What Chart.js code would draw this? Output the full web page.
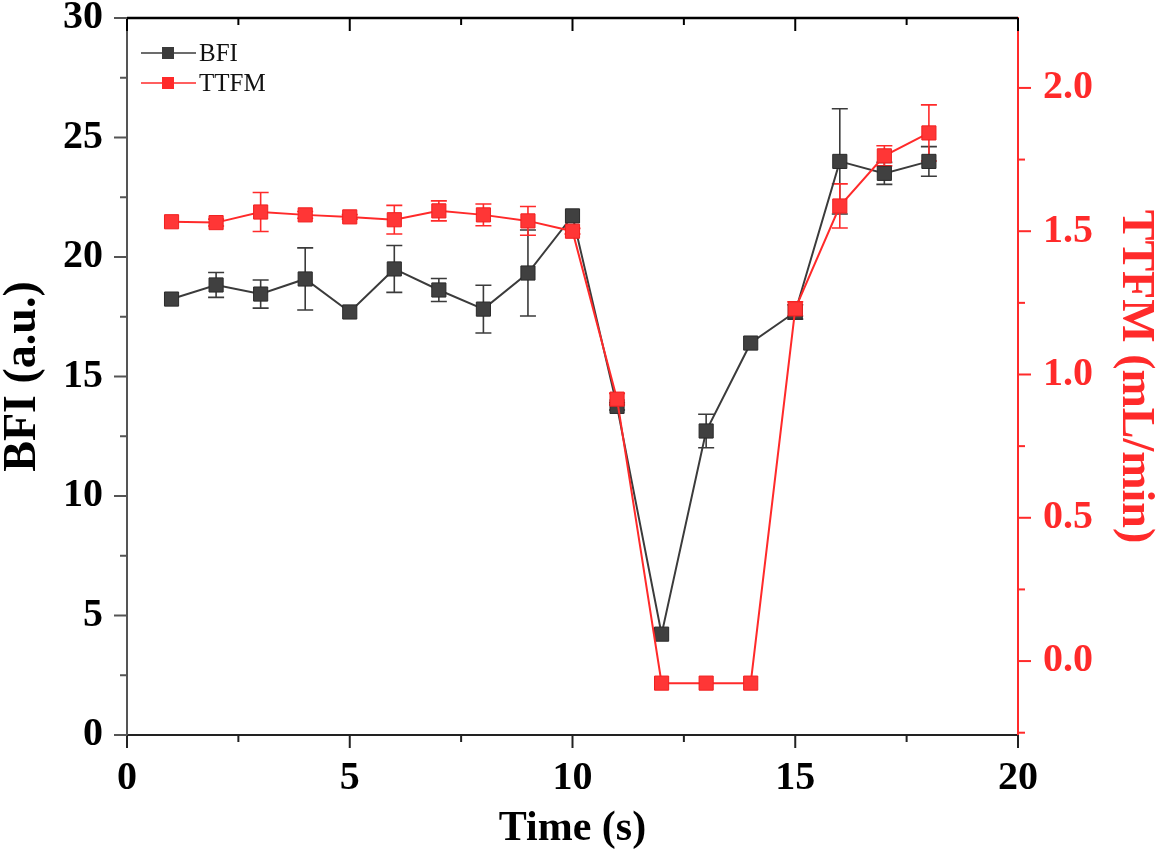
<!DOCTYPE html>
<html>
<head>
<meta charset="utf-8">
<script src="https://cdn.jsdelivr.net/npm/chart.js@4.4.0/dist/chart.umd.min.js"></script>
<style>
  html, body { margin: 0; padding: 0; background: #fff; }
  #canvas-BFI { width: 1158px; height: 859px; }
</style>
</head>
<body>
<div id="canvas-BFI">
  <canvas id="cntBFI_Chart"></canvas>
</div>
<script>
  // valores
  const tiempo  = [1, 2, 3, 4, 5, 6, 7, 8, 9, 10, 11, 12, 13, 14, 15, 16, 17, 18];
  const bfi     = [18.24, 18.83, 18.45, 19.08, 17.70, 19.50, 18.62, 17.82, 19.33, 21.72, 13.75, 4.22, 12.72, 16.40, 17.70, 24.00, 23.50, 24.00];
  const bfiErr  = [0, 0.52, 0.59, 1.3, 0, 0.98, 0.48, 1.0, 1.8, 0, 0.15, 0, 0.7, 0, 0.3, 2.2, 0.46, 0.62];
  const ttfm    = [1.533, 1.530, 1.567, 1.557, 1.550, 1.540, 1.571, 1.557, 1.536, 1.500, 0.914, -0.077, -0.077, -0.077, 1.229, 1.588, 1.763, 1.843];
  const ttfmErr = [0, 0.012, 0.068, 0.012, 0.008, 0.05, 0.035, 0.038, 0.05, 0.01, 0.02, 0, 0, 0, 0.025, 0.077, 0.035, 0.098];
  const etiquetas = ['BFI', 'TTFM'];

  const fuente = 'Liberation Serif, Times New Roman, serif';
  const negro = '#3b3b3b', rojo = '#ff2a2a';

  function barrasError(ctx, chart, ys, errs, axisId, color) {
    const xS = chart.scales.x, yS = chart.scales[axisId];
    ctx.save();
    ctx.strokeStyle = color;
    ctx.lineWidth = 1.6;
    tiempo.forEach(function (t, i) {
      if (!errs[i]) return;
      const px = xS.getPixelForValue(t);
      const top = yS.getPixelForValue(ys[i] + errs[i]);
      const bot = yS.getPixelForValue(ys[i] - errs[i]);
      ctx.beginPath();
      ctx.moveTo(px, top); ctx.lineTo(px, bot);
      ctx.moveTo(px - 8, top); ctx.lineTo(px + 8, top);
      ctx.moveTo(px - 8, bot); ctx.lineTo(px + 8, bot);
      ctx.stroke();
    });
    ctx.restore();
  }

  function marcas(ctx, scale, desde, hasta, paso, cadaMayor, lado, color) {
    ctx.save();
    ctx.strokeStyle = color;
    ctx.lineWidth = 2;
    const a = scale.chart.chartArea;
    for (let v = desde; v <= hasta + 1e-9; v += paso) {
      const n = Math.round(v / paso);
      const len = (n % cadaMayor === 0) ? 13 : 7;
      const p = scale.getPixelForValue(v);
      ctx.beginPath();
      if (lado === 'bottom') { ctx.moveTo(p, a.bottom); ctx.lineTo(p, a.bottom + len); }
      if (lado === 'top')    { ctx.moveTo(p, a.top);    ctx.lineTo(p, a.top + len); }
      if (lado === 'left')   { ctx.moveTo(a.left, p);   ctx.lineTo(a.left - len, p); }
      if (lado === 'right')  { ctx.moveTo(a.right, p);  ctx.lineTo(a.right + len, p); }
      ctx.stroke();
    }
    ctx.restore();
  }

  // anchos fijos de los ejes, sin margen extra por las etiquetas
  function fijar(ancho, alto) {
    return function (scale) {
      if (ancho) scale.width = ancho;
      if (alto) scale.height = alto;
      scale.paddingTop = 0; scale.paddingBottom = 0;
      scale.paddingLeft = 0; scale.paddingRight = 0;
    };
  }

  const marco = {
    id: 'marco',
    beforeDatasetsDraw: function (chart) {
      const ctx = chart.ctx;
      barrasError(ctx, chart, bfi, bfiErr, 'y', negro);
      barrasError(ctx, chart, ttfm, ttfmErr, 'y1', rojo);
    },
    afterDraw: function (chart) {
      const ctx = chart.ctx, a = chart.chartArea, s = chart.scales;
      // linea superior
      ctx.save();
      ctx.strokeStyle = '#000';
      ctx.lineWidth = 2.5;
      ctx.beginPath();
      ctx.moveTo(a.left, a.top); ctx.lineTo(a.right, a.top);
      ctx.stroke();
      ctx.restore();

      marcas(ctx, s.x, 0, 20, 2.5, 2, 'bottom', '#222');
      marcas(ctx, s.x, 0, 20, 2.5, 2, 'top', '#000');
      marcas(ctx, s.y, 0, 30, 2.5, 2, 'left', '#555');
      marcas(ctx, s.y1, -0.25, 2.0, 0.25, 2, 'right', rojo);

      // leyenda
      const colores = [negro, rojo];
      ctx.save();
      ctx.font = '25px ' + fuente;
      ctx.textBaseline = 'middle';
      etiquetas.forEach(function (txt, i) {
        const y = a.top + 35 + i * 30;
        ctx.strokeStyle = colores[i];
        ctx.lineWidth = 1.6;
        ctx.beginPath(); ctx.moveTo(a.left + 14, y); ctx.lineTo(a.left + 69, y); ctx.stroke();
        ctx.fillStyle = colores[i];
        ctx.fillRect(a.left + 35, y - 6, 12, 12);
        ctx.fillStyle = '#111';
        ctx.fillText(txt, a.left + 72, y + 1);
      });
      ctx.restore();
    }
  };

  const config = {
    type: 'line',
    data: {
      datasets: [
        {
          label: etiquetas[1],
          data: tiempo.map(function (t, i) { return { x: t, y: ttfm[i] }; }),
          yAxisID: 'y1',
          borderColor: rojo,
          backgroundColor: '#ff3636',
          pointBackgroundColor: '#ff3636',
          pointBorderColor: '#f02020',
          pointStyle: 'rect',
          pointRadius: 10,
          pointBorderWidth: 1,
          borderWidth: 2,
          tension: 0,
          order: 0
        },
        {
          label: etiquetas[0],
          data: tiempo.map(function (t, i) { return { x: t, y: bfi[i] }; }),
          yAxisID: 'y',
          borderColor: negro,
          backgroundColor: '#404040',
          pointBackgroundColor: '#404040',
          pointBorderColor: '#2a2a2a',
          pointStyle: 'rect',
          pointRadius: 10,
          pointBorderWidth: 1,
          borderWidth: 2,
          tension: 0,
          order: 1
        }
      ]
    },
    plugins: [marco],
    options: {
      responsive: true,
      maintainAspectRatio: false,
      animation: false,
      layout: { padding: { top: 18, left: 0, right: 0, bottom: 0 } },
      plugins: {
        legend: { display: false },
        tooltip: { enabled: false },
        title: { display: false }
      },
      scales: {
        x: {
          type: 'linear',
          position: 'bottom',
          min: 0, max: 20,
          grid: { display: false, drawTicks: false },
          border: { display: true, color: '#222', width: 2 },
          ticks: {
            stepSize: 5, maxRotation: 0, color: '#000', padding: 26,
            font: { family: fuente, size: 40, weight: 'bold', lineHeight: 0.9 }
          },
          title: {
            display: true, text: 'Time (s)', color: '#000', padding: { top: 0, bottom: 9 },
            font: { family: fuente, size: 42, weight: 'bold', lineHeight: 1 }
          },
          afterFit: fijar(0, 124)
        },
        y: {
          position: 'left',
          min: 0, max: 30,
          grid: { display: false, drawTicks: false },
          border: { display: true, color: '#555', width: 2 },
          ticks: {
            stepSize: 5, color: '#000', padding: 24,
            font: { family: fuente, size: 40, weight: 'bold', lineHeight: 0.9 }
          },
          title: {
            display: true, text: 'BFI (a.u.)', color: '#000', padding: 0,
            font: { family: fuente, size: 46, weight: 'bold', lineHeight: 1 }
          },
          afterFit: fijar(127, 0)
        },
        y1: {
          position: 'right',
          min: -0.258, max: 2.244,
          grid: { display: false, drawTicks: false, drawOnChartArea: false },
          border: { display: true, color: rojo, width: 2 },
          ticks: {
            stepSize: 0.5, includeBounds: false, color: rojo, padding: 25,
            font: { family: fuente, size: 40, weight: 'bold', lineHeight: 0.9 },
            callback: function (v) { return Number(v).toFixed(1); }
          },
          title: {
            display: true, text: 'TTFM (mL/min)', color: rojo, padding: 0,
            font: { family: fuente, size: 46, weight: 'bold', lineHeight: 1 }
          },
          afterFit: fijar(140, 0)
        }
      }
    }
  };

  const ctx = document.getElementById('cntBFI_Chart').getContext('2d');
  window.cntBFI_Grafica_ = new Chart(ctx, config);
</script>
</body>
</html>
